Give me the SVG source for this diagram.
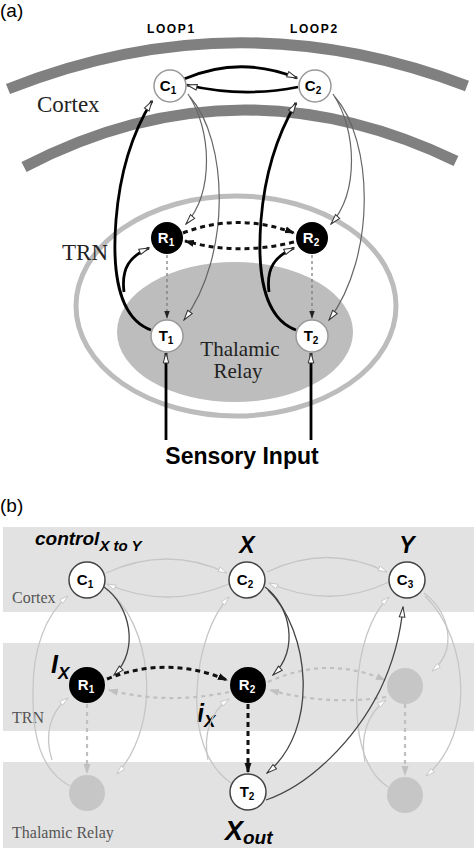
<svg xmlns="http://www.w3.org/2000/svg" width="474" height="848" viewBox="0 0 474 848">
<defs>
<style>
.sans{font-family:"Liberation Sans",Arial,sans-serif}
.serif{font-family:"Liberation Serif","Times New Roman",serif}
.lbl{font-family:"Liberation Sans",Arial,sans-serif;font-weight:bold;font-size:15px;text-anchor:middle}
.sub{font-size:10px}
.thick{fill:none;stroke:#000;stroke-width:2.8}
.thin{fill:none;stroke:#666;stroke-width:1.2}
.dashk{fill:none;stroke:#111;stroke-width:3;stroke-dasharray:5 4}
.dashv{fill:none;stroke:#777;stroke-width:1.2;stroke-dasharray:3 3}
.gl{fill:none;stroke:#c6c6c6;stroke-width:1.3}
.dl{fill:none;stroke:#444;stroke-width:1.3}
.gd{fill:none;stroke:#c0c0c0;stroke-width:2.2;stroke-dasharray:4 4}
.bi{font-family:"Liberation Sans",Arial,sans-serif;font-weight:bold;font-style:italic}
</style>
<marker id="op" viewBox="0 0 12 8" refX="11" refY="4" markerWidth="12" markerHeight="8" markerUnits="userSpaceOnUse" orient="auto">
<path d="M1,1.2 L11,4 L1,6.8 z" fill="#fff" stroke="#333" stroke-width="1"/>
</marker>
<marker id="og" viewBox="0 0 12 8" refX="11" refY="4" markerWidth="11" markerHeight="7" markerUnits="userSpaceOnUse" orient="auto">
<path d="M1,1.2 L11,4 L1,6.8 z" fill="#fff" stroke="#c6c6c6" stroke-width="1"/>
</marker>
<marker id="fk" viewBox="0 0 10 8" refX="9" refY="4" markerWidth="10" markerHeight="8" markerUnits="userSpaceOnUse" orient="auto">
<path d="M0,0.5 L10,4 L0,7.5 z" fill="#111"/>
</marker>
<marker id="fs" viewBox="0 0 10 8" refX="9" refY="4" markerWidth="8" markerHeight="7" markerUnits="userSpaceOnUse" orient="auto">
<path d="M0,0.5 L10,4 L0,7.5 z" fill="#222"/>
</marker>
<marker id="fg" viewBox="0 0 10 8" refX="9" refY="4" markerWidth="10" markerHeight="8" markerUnits="userSpaceOnUse" orient="auto">
<path d="M0,0.5 L10,4 L0,7.5 z" fill="#c0c0c0"/>
</marker>
</defs>
<rect width="474" height="848" fill="#fff"/>

<!-- Panel (a) background shapes -->
<g id="panel-a-bg">
<text class="sans" x="0" y="17" font-size="19">(a)</text>
<text class="sans" x="147" y="33" font-size="12" font-weight="bold" letter-spacing="1.6">LOOP1</text>
<text class="sans" x="290" y="33" font-size="12" font-weight="bold" letter-spacing="1.6">LOOP2</text>
<path d="M8,89 Q237,-2 467,86" fill="none" stroke="#808080" stroke-width="11"/>
<path d="M24,167 Q237,56 456,161" fill="none" stroke="#808080" stroke-width="11"/>
<text class="serif" x="37" y="112" font-size="23" fill="#222">Cortex</text>
<ellipse cx="236" cy="306" rx="160" ry="110" fill="none" stroke="#bcbcbc" stroke-width="5"/>
<ellipse cx="235" cy="332" rx="118" ry="70" fill="#bdbdbd"/>
<text class="serif" x="62" y="260" font-size="23" fill="#222">TRN</text>
<text class="serif" x="240" y="356" font-size="21" fill="#222" text-anchor="middle">Thalamic</text>
<text class="serif" x="238" y="378" font-size="21" fill="#222" text-anchor="middle">Relay</text>
<text class="sans" x="242" y="464" font-size="23" font-weight="bold" text-anchor="middle">Sensory Input</text>
</g>

<!-- Panel (a) connectors -->
<g id="connectors-a">
<path class="thick" d="M184,79 Q240,55 297,78" marker-end="url(#op)"/>
<path class="thick" d="M298,87 Q243,98 187,85" marker-end="url(#op)"/>
<path class="thick" d="M151,330 C118,318 112,270 116,220 C120,170 134,130 152,101" marker-end="url(#op)"/>
<path class="thick" stroke-width="2.4" d="M124,292 C121,268 130,256 149,248" marker-end="url(#op)"/>
<path class="thin" d="M188,94 C212,130 214,192 186,224" marker-end="url(#op)"/>
<path class="thin" d="M190,97 C228,140 232,255 184,320" marker-end="url(#op)"/>
<path class="dashv" d="M167,255 L167,318" marker-end="url(#fs)"/>
<path class="thick" d="M296,330 C263,318 257,270 261,220 C265,170 279,132 296,103" marker-end="url(#op)"/>
<path class="thick" stroke-width="2.4" d="M269,292 C266,268 275,256 294,248" marker-end="url(#op)"/>
<path class="thin" d="M333,94 C357,130 359,192 331,224" marker-end="url(#op)"/>
<path class="thin" d="M335,97 C373,140 377,255 329,320" marker-end="url(#op)"/>
<path class="dashv" d="M312,255 L312,318" marker-end="url(#fs)"/>
<path class="dashk" d="M183,233 Q238,212 294,233" marker-end="url(#fk)"/>
<path class="dashk" d="M294,242 Q238,256 185,241" marker-end="url(#fk)"/>
<path class="thick" stroke-width="2.5" d="M166,440 L166,353" marker-end="url(#op)"/>
<path class="thick" stroke-width="2.5" d="M311,440 L311,353" marker-end="url(#op)"/>
</g>

<!-- Panel (a) nodes -->
<g id="a-C1"><circle cx="170" cy="86" r="16" fill="#fff" stroke="#999" stroke-width="1.5"/><text class="lbl" x="168" y="91">C<tspan class="sub" dy="3">1</tspan></text></g>
<g id="a-C2"><circle cx="315" cy="86" r="16" fill="#fff" stroke="#999" stroke-width="1.5"/><text class="lbl" x="313" y="91">C<tspan class="sub" dy="3">2</tspan></text></g>
<g id="a-R1"><circle cx="167" cy="238" r="16" fill="#000"/><text class="lbl" x="166" y="243" fill="#fff">R<tspan class="sub" dy="3">1</tspan></text></g>
<g id="a-R2"><circle cx="312" cy="238" r="16" fill="#000"/><text class="lbl" x="311" y="243" fill="#fff">R<tspan class="sub" dy="3">2</tspan></text></g>
<g id="a-T1"><circle cx="167" cy="336" r="16" fill="#fff" stroke="#999" stroke-width="1.5"/><text class="lbl" x="166" y="341">T<tspan class="sub" dy="3">1</tspan></text></g>
<g id="a-T2"><circle cx="312" cy="336" r="16" fill="#fff" stroke="#999" stroke-width="1.5"/><text class="lbl" x="311" y="341">T<tspan class="sub" dy="3">2</tspan></text></g>

<!-- Panel (b) background -->
<g id="panel-b-bg">
<text class="sans" x="0" y="512" font-size="19">(b)</text>
<rect x="3" y="527" width="471" height="85" fill="#e2e2e2"/>
<rect x="3" y="643" width="471" height="88" fill="#e2e2e2"/>
<rect x="3" y="762" width="471" height="86" fill="#e2e2e2"/>
<text class="serif" x="12" y="603" font-size="16" fill="#555">Cortex</text>
<text class="serif" x="12" y="723" font-size="16" fill="#555">TRN</text>
<text class="serif" x="12" y="838" font-size="16" fill="#555">Thalamic Relay</text>
<text class="bi" x="35" y="545" font-size="19">control<tspan font-size="15" dy="6">X to Y</tspan></text>
<text class="bi" x="247" y="553" font-size="23" text-anchor="middle">X</text>
<text class="bi" x="407" y="553" font-size="23" text-anchor="middle">Y</text>
<text class="bi" x="51" y="673" font-size="25">I<tspan font-size="17" dy="6">X</tspan></text>
<text class="bi" x="197" y="722" font-size="25">i<tspan font-size="17" dy="5">X</tspan></text>
<text class="bi" x="225" y="840" font-size="27">X<tspan font-size="19" dy="4">out</tspan></text>
</g>

<!-- Panel (b) connectors -->
<g id="connectors-b">
<path class="gl" d="M106,573 Q167,545 227,573" marker-end="url(#og)"/>
<path class="gl" d="M229,584 Q167,610 107,584" marker-end="url(#og)"/>
<path class="gl" d="M267,572 Q327,543 387,572" marker-end="url(#og)"/>
<path class="gl" d="M389,582 Q330,610 269,583" marker-end="url(#og)"/>
<path class="gl" d="M70,786 C40,770 32,735 33,690 C33,650 45,615 68,596" marker-end="url(#og)"/>
<path class="gl" d="M52,760 C44,735 50,712 68,698" marker-end="url(#og)"/>
<path class="gl" d="M106,589 C150,620 165,720 117,774" marker-end="url(#og)"/>
<path class="gd" stroke-width="1.6" d="M87,704 L87,773" marker-end="url(#fg)"/>
<path class="gl" d="M231,783 C205,765 195,730 197,690 C199,650 212,615 229,597" marker-end="url(#og)"/>
<path class="gl" d="M208,760 C203,735 210,712 229,699" marker-end="url(#og)"/>
<path class="gl" d="M388,787 C362,770 355,730 357,690 C359,650 370,615 389,597" marker-end="url(#og)"/>
<path class="gl" d="M365,762 C360,737 367,714 386,700" marker-end="url(#og)"/>
<path class="gl" d="M424,593 C450,612 458,650 432,671" marker-end="url(#og)"/>
<path class="gl" d="M425,596 C470,640 475,735 426,776" marker-end="url(#og)"/>
<path class="gd" stroke-width="1.6" d="M405,704 L405,775" marker-end="url(#fg)"/>
<path class="gd" d="M229,692 Q167,705 109,690" marker-end="url(#fg)"/>
<path class="gd" d="M268,682 Q327,655 385,680" marker-end="url(#fg)"/>
<path class="gd" d="M386,697 Q327,706 270,690" marker-end="url(#fg)"/>
<path class="dl" d="M104,587 C130,605 140,650 114,675" marker-end="url(#op)"/>
<path class="dl" d="M265,587 C290,605 300,650 273,675" marker-end="url(#op)"/>
<path class="dl" d="M268,590 C310,630 320,730 267,773" marker-end="url(#op)"/>
<path class="dl" d="M266,800 C310,785 355,740 380,690 C392,665 400,640 403,607" marker-end="url(#op)"/>
<path class="dashk" d="M107,679 Q167,655 227,680" marker-end="url(#fk)"/>
<path class="dashk" stroke-width="2.5" d="M248,704 L248,772" marker-end="url(#fk)"/>
</g>

<!-- Panel (b) nodes -->
<g id="b-C1"><circle cx="87" cy="580" r="18" fill="#fff" stroke="#444" stroke-width="1.5"/><text class="lbl" x="85" y="585">C<tspan class="sub" dy="3">1</tspan></text></g>
<g id="b-C2"><circle cx="247" cy="580" r="18" fill="#fff" stroke="#444" stroke-width="1.5"/><text class="lbl" x="245" y="585">C<tspan class="sub" dy="3">2</tspan></text></g>
<g id="b-C3"><circle cx="407" cy="580" r="18" fill="#fff" stroke="#444" stroke-width="1.5"/><text class="lbl" x="405" y="585">C<tspan class="sub" dy="3">3</tspan></text></g>
<g id="b-R1"><circle cx="87" cy="685" r="18" fill="#000"/><text class="lbl" x="86" y="690" fill="#fff">R<tspan class="sub" dy="3">1</tspan></text></g>
<g id="b-R2"><circle cx="248" cy="685" r="18" fill="#000"/><text class="lbl" x="247" y="690" fill="#fff">R<tspan class="sub" dy="3">2</tspan></text></g>
<g id="b-R3"><circle cx="405" cy="686" r="18" fill="#c6c6c6"/></g>
<g id="b-T1"><circle cx="87" cy="793" r="18" fill="#c6c6c6"/></g>
<g id="b-T2"><circle cx="248" cy="792" r="18" fill="#fff" stroke="#444" stroke-width="1.5"/><text class="lbl" x="247" y="797">T<tspan class="sub" dy="3">2</tspan></text></g>
<g id="b-T3"><circle cx="405" cy="795" r="18" fill="#c6c6c6"/></g>
</svg>
